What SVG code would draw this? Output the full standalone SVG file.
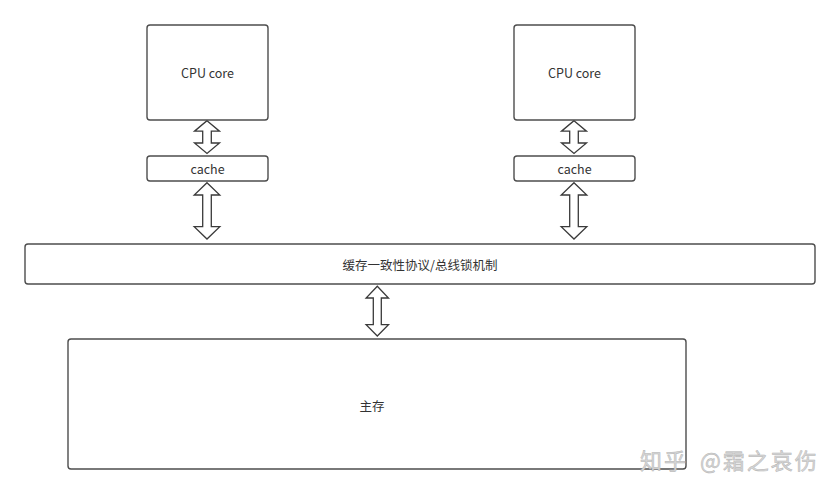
<svg xmlns="http://www.w3.org/2000/svg" width="840" height="494" viewBox="0 0 840 494">
<style>
.box{fill:#fff;stroke:#4d4d4d;stroke-width:1.4}
.arr{fill:#fff;stroke:#3a3a3a;stroke-width:1.3;stroke-linejoin:miter}
.t{font-family:"Noto Sans CJK SC","Noto Sans",sans-serif;font-size:12.5px;fill:#333;text-anchor:middle;dominant-baseline:central}
.wm{font-family:"Noto Sans CJK SC",sans-serif;font-size:22px;fill:#d8d8d8;stroke:#b4b4b4;stroke-width:0.5;letter-spacing:2px}
</style>
<rect width="840" height="494" fill="#fff"/>
<g id="connectors">
<path class="arr" d="M207,120.7 L219.5,131.2 L211.3,131.2 L211.3,143 L219.5,143 L207,153.5 L194.5,143 L202.7,143 L202.7,131.2 L194.5,131.2 Z"/>
<path class="arr" d="M207,182.7 L219.8,195 L211.3,195 L211.3,226.7 L219.8,226.7 L207,239 L194.2,226.7 L202.7,226.7 L202.7,195 L194.2,195 Z"/>
<path class="arr" d="M574,120.7 L586.5,131.2 L578.3,131.2 L578.3,143 L586.5,143 L574,153.5 L561.5,143 L569.7,143 L569.7,131.2 L561.5,131.2 Z"/>
<path class="arr" d="M574,182.7 L586.8,195 L578.3,195 L578.3,226.7 L586.8,226.7 L574,239 L561.2,226.7 L569.7,226.7 L569.7,195 L561.2,195 Z"/>
<path class="arr" d="M377.3,286.3 L388.5,298 L381.3,298 L381.3,324.7 L388.5,324.7 L377.3,336 L366.1,324.7 L373.3,324.7 L373.3,298 L366.1,298 Z"/>
</g>
<g id="cpu1">
<rect class="box" x="147" y="25" width="121" height="95" rx="3"/>
<text class="t" x="207.5" y="72.5">CPU core</text>
</g>
<g id="cache1">
<rect class="box" x="147" y="156" width="121" height="25" rx="3"/>
<text class="t" x="207.5" y="168.5">cache</text>
</g>
<g id="cpu2">
<rect class="box" x="514" y="25" width="121" height="95" rx="3"/>
<text class="t" x="574.5" y="72.5">CPU core</text>
</g>
<g id="cache2">
<rect class="box" x="514" y="156" width="121" height="25" rx="3"/>
<text class="t" x="574.5" y="168.5">cache</text>
</g>
<g id="bus">
<rect class="box" x="25" y="244" width="790" height="40" rx="3"/>
<text class="t" x="420" y="264.5">缓存一致性协议/总线锁机制</text>
</g>
<g id="memory">
<rect class="box" x="68" y="339" width="618" height="130" rx="3"/>
<text class="t" x="372" y="405.5">主存</text>
</g>
<text class="wm" y="469"><tspan x="640">知乎</tspan><tspan x="700">@霜之哀伤</tspan></text>
</svg>
